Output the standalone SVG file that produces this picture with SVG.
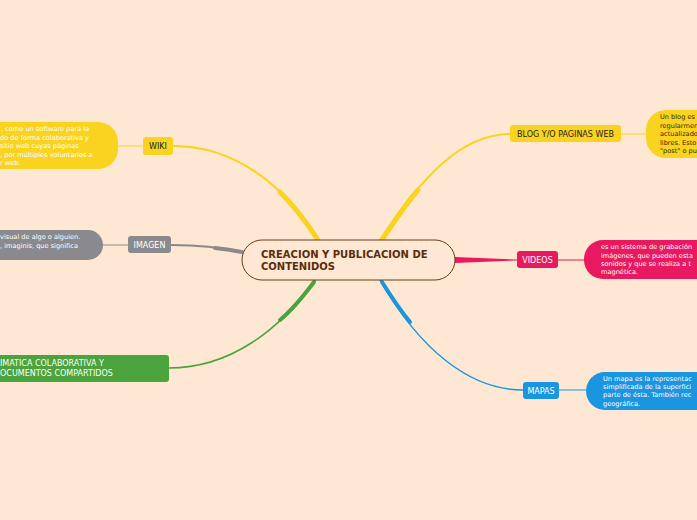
<svg xmlns="http://www.w3.org/2000/svg" width="697" height="520" viewBox="0 0 697 520">
<style>
text{font-family:"DejaVu Sans",Verdana,sans-serif}
.lbl{font-size:8px}
.d{font-size:6.6px;fill:#fff}
.c{fill:none;stroke-linecap:round}
</style>
<rect width="697" height="520" fill="#fee8d3"/>
<g id="connectors">
<path class="c" d="M320 242 C285 185 235 146 173 146" stroke="#f9d31f" stroke-width="2"/>
<path class="c" d="M318 240 C305 220 293 205 280 192" stroke="#f9d31f" stroke-width="5"/>
<path class="c" d="M380 240 C420 180 460 134 510 134" stroke="#f9d31f" stroke-width="2"/>
<path class="c" d="M382 240 C395 220 405 205 418 190" stroke="#f9d31f" stroke-width="5"/>
<path d="M455 257 L517 259.5 L517 260.5 L455 263 Z" fill="#e8195e"/>
<path class="c" d="M380 280 C420 350 470 390 523 390" stroke="#1a96e0" stroke-width="1.5"/>
<path class="c" d="M382 282 C392 298 400 310 410 322" stroke="#1a96e0" stroke-width="4"/>
<path class="c" d="M242 252 C215 246 195 245 171 245" stroke="#8a8a8e" stroke-width="2"/>
<path class="c" d="M242 252 C232 250 225 249 215 248" stroke="#8a8a8e" stroke-width="4"/>
<path class="c" d="M315 280 C280 330 230 368 169 368" stroke="#4aa33d" stroke-width="1.5"/>
<path class="c" d="M314 282 C302 298 292 310 280 320" stroke="#4aa33d" stroke-width="4"/>
<path class="c" d="M118 146 H143" stroke="#f9d31f" stroke-width="1"/>
<path class="c" d="M103 245 H128" stroke="#8a8a8e" stroke-width="1"/>
<path class="c" d="M621 134 H646" stroke="#f9d31f" stroke-width="1"/>
<path class="c" d="M558 260 H584" stroke="#e8195e" stroke-width="1"/>
<path class="c" d="M559 390 H586" stroke="#1a96e0" stroke-width="1"/>
</g>
<g id="center">
<rect x="242" y="240" width="213" height="40" rx="20" fill="#fee8d3" stroke="#6b3a1a" stroke-width="1"/>
<text x="261" y="258" font-size="10" font-weight="bold" fill="#5a2d0c">CREACION Y PUBLICACION DE</text>
<text x="261" y="270" font-size="10" font-weight="bold" fill="#5a2d0c">CONTENIDOS</text>
</g>
<g id="wiki">
<rect x="143" y="137" width="30" height="18" rx="3" fill="#f9d31f"/>
<text x="158" y="149" class="lbl" text-anchor="middle" fill="#222">WIKI</text>
</g>
<g id="wiki-desc">
<rect x="-30" y="122" width="148" height="47" rx="20" fill="#f9d31f"/>
<text class="d" x="1" y="131">, como un software para la</text>
<text class="d" x="0" y="140">do de forma colaborativa y</text>
<text class="d" x="0" y="148">sitio web cuyas páginas</text>
<text class="d" x="0" y="157">, por múltiples voluntarios a</text>
<text class="d" x="0" y="165">r web.</text>
</g>
<g id="imagen">
<rect x="128" y="236" width="43" height="17" rx="3" fill="#8a8a8e"/>
<text x="149.5" y="247.5" class="lbl" text-anchor="middle" fill="#fff">IMAGEN</text>
</g>
<g id="imagen-desc">
<rect x="-30" y="230" width="133" height="30" rx="15" fill="#8a8a8e"/>
<text class="d" x="0" y="239">visual de algo o alguien.</text>
<text class="d" x="0" y="248">, imaginis, que significa</text>
</g>
<g id="ofimatica">
<rect x="-10" y="355" width="179" height="27" rx="3" fill="#4aa33d"/>
<text x="0" y="366" class="lbl" fill="#fff">IMATICA COLABORATIVA Y</text>
<text x="0" y="376" class="lbl" fill="#fff">OCUMENTOS COMPARTIDOS</text>
</g>
<g id="blog">
<rect x="510" y="125" width="111" height="17" rx="3" fill="#f9d31f"/>
<text x="565.5" y="137" class="lbl" text-anchor="middle" fill="#222">BLOG Y/O PAGINAS WEB</text>
</g>
<g id="blog-desc">
<rect x="646" y="110" width="90" height="48" rx="20" fill="#f9d31f"/>
<text class="d" x="660" y="119" fill="#3a2a00" style="fill:#3a2a00">Un blog es</text>
<text class="d" x="660" y="128" style="fill:#3a2a00">regularmen</text>
<text class="d" x="660" y="136" style="fill:#3a2a00">actualizado</text>
<text class="d" x="660" y="145" style="fill:#3a2a00">libres. Esto</text>
<text class="d" x="660" y="153" style="fill:#3a2a00">"post" o pu</text>
</g>
<g id="videos">
<rect x="517" y="251" width="41" height="17" rx="3" fill="#e8195e"/>
<text x="537.5" y="263" class="lbl" text-anchor="middle" fill="#fff">VIDEOS</text>
</g>
<g id="videos-desc">
<rect x="584" y="240" width="140" height="39" rx="19" fill="#e8195e"/>
<text class="d" x="601" y="249">es un sistema de grabación</text>
<text class="d" x="601" y="258">imágenes, que pueden esta</text>
<text class="d" x="601" y="266">sonidos y que se realiza a t</text>
<text class="d" x="601" y="274">magnética.</text>
</g>
<g id="mapas">
<rect x="523" y="382" width="36" height="17" rx="3" fill="#1a96e0"/>
<text x="541" y="394" class="lbl" text-anchor="middle" fill="#fff">MAPAS</text>
</g>
<g id="mapas-desc">
<rect x="586" y="372" width="140" height="38" rx="19" fill="#1a96e0"/>
<text class="d" x="603" y="381">Un mapa es la representac</text>
<text class="d" x="603" y="389">simplificada de la superfici</text>
<text class="d" x="603" y="397">parte de ésta. También rec</text>
<text class="d" x="603" y="406">geográfica.</text>
</g>
</svg>
